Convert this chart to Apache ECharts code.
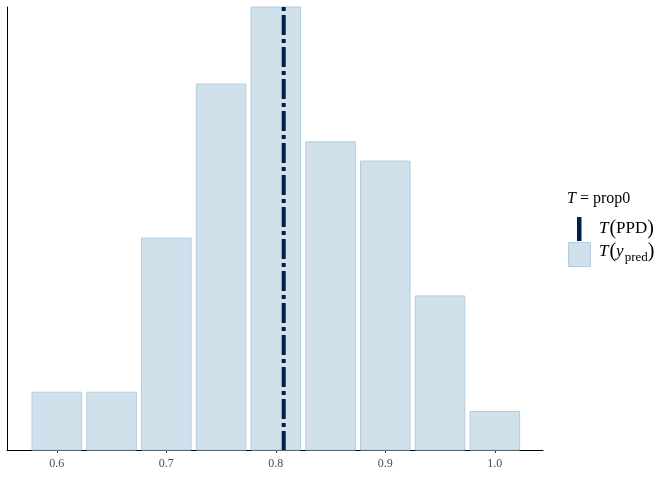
<!DOCTYPE html>
<html>
<head>
<meta charset="utf-8">
<script src="https://cdn.jsdelivr.net/npm/echarts@6/dist/echarts.min.js"></script>
<style>html,body{margin:0;padding:0;background:#fff}#chart{width:672px;height:480px}</style>
</head>
<body>
<div id="chart"></div>
<script>
// Data
const binCenters = [0.60, 0.65, 0.70, 0.75, 0.80, 0.85, 0.90, 0.95, 1.00];
const counts = [3, 3, 11, 19, 23, 16, 15, 8, 2];
const binWidth = 0.05;
const observedStat = 0.8072; // T(PPD)
const tickValues = [0.6, 0.7, 0.8, 0.9, 1.0];

const serif = "'Liberation Serif', 'DejaVu Serif', serif";
const chart = echarts.init(document.getElementById('chart'), null, {renderer: 'canvas'});

const histData = binCenters.map((c, i) => [c, counts[i]]);

const option = {
  animation: false,
  grid: {left: 7, right: 129, top: 7, bottom: 30},
  xAxis: {
    type: 'value',
    min: 0.5545,
    max: 1.044,
    splitLine: {show: false},
    axisLine: {show: true, onZero: false, lineStyle: {color: '#000', width: 1}},
    axisTick: {show: true, length: 3, customValues: tickValues, lineStyle: {color: '#333'}},
    axisLabel: {
      customValues: tickValues,
      formatter: v => Number(v).toFixed(1),
      color: '#4d4d4d', fontFamily: serif, fontSize: 12, margin: 8
    }
  },
  yAxis: {
    type: 'value',
    min: 0,
    max: 23,
    splitLine: {show: false},
    axisLine: {show: true, lineStyle: {color: '#000', width: 1}},
    axisTick: {show: false},
    axisLabel: {show: false}
  },
  series: [
    {
      type: 'custom',
      name: 'T(y_pred)',
      data: histData,
      renderItem: function (params, api) {
        const c = api.value(0), n = api.value(1);
        const p0 = api.coord([c - binWidth / 2, n]);
        const p1 = api.coord([c + binWidth / 2, 0]);
        const inset = 2.6;
        return {
          type: 'rect',
          shape: {x: p0[0] + inset, y: p0[1], width: p1[0] - p0[0] - 2 * inset, height: p1[1] - p0[1]},
          style: {fill: '#d1e1ec', stroke: '#b3cde0', lineWidth: 1}
        };
      },
      z: 2
    },
    {
      type: 'line',
      name: 'T(PPD)',
      data: [[observedStat, 23], [observedStat, 0]],
      symbol: 'none',
      lineStyle: {color: '#011f4b', width: 4, type: [4, 4, 20, 4], cap: 'butt'},
      z: 5
    }
  ],
  graphic: [
    {
      type: 'text', left: 567, top: 191,
      style: {
        text: '{i|T} = prop0',
        font: '16px ' + serif, fill: '#000',
        rich: {i: {fontStyle: 'italic', fontFamily: serif, fontSize: 16}}
      }
    },
    {type: 'rect', shape: {x: 577, y: 217, width: 4.5, height: 24}, style: {fill: '#011f4b'}},
    {
      type: 'text', left: 599, top: 219,
      style: {
        text: '{i|T}{p|(}{n|PPD}{p|)}',
        fill: '#000', font: '17px ' + serif,
        rich: {
          i: {fontStyle: 'italic', fontFamily: serif, fontSize: 17, verticalAlign: 'middle', lineHeight: 22, padding: [0, 1, 0, 0]},
          p: {fontFamily: serif, fontSize: 20, verticalAlign: 'middle', lineHeight: 22},
          n: {fontFamily: serif, fontSize: 17, verticalAlign: 'middle', lineHeight: 22}
        }
      }
    },
    {type: 'rect', shape: {x: 568.5, y: 242.5, width: 22, height: 24}, style: {fill: '#d1e1ec', stroke: '#b3cde0', lineWidth: 1}},
    {
      type: 'text', left: 599, top: 242,
      style: {
        text: '{i|T}{p|(}{iy|y}{s|pred}{p|)}',
        fill: '#000', font: '17px ' + serif,
        rich: {
          i: {fontStyle: 'italic', fontFamily: serif, fontSize: 17, verticalAlign: 'middle', lineHeight: 24, padding: [0, 1, 0, 0]},
          iy: {fontStyle: 'italic', fontFamily: serif, fontSize: 17, verticalAlign: 'middle', lineHeight: 24, padding: [0, 1, 0, 0]},
          p: {fontFamily: serif, fontSize: 20, verticalAlign: 'middle', lineHeight: 24},
          s: {fontFamily: serif, fontSize: 13, verticalAlign: 'bottom', lineHeight: 24}
        }
      }
    }
  ]
};
chart.setOption(option);
</script>
</body>
</html>
